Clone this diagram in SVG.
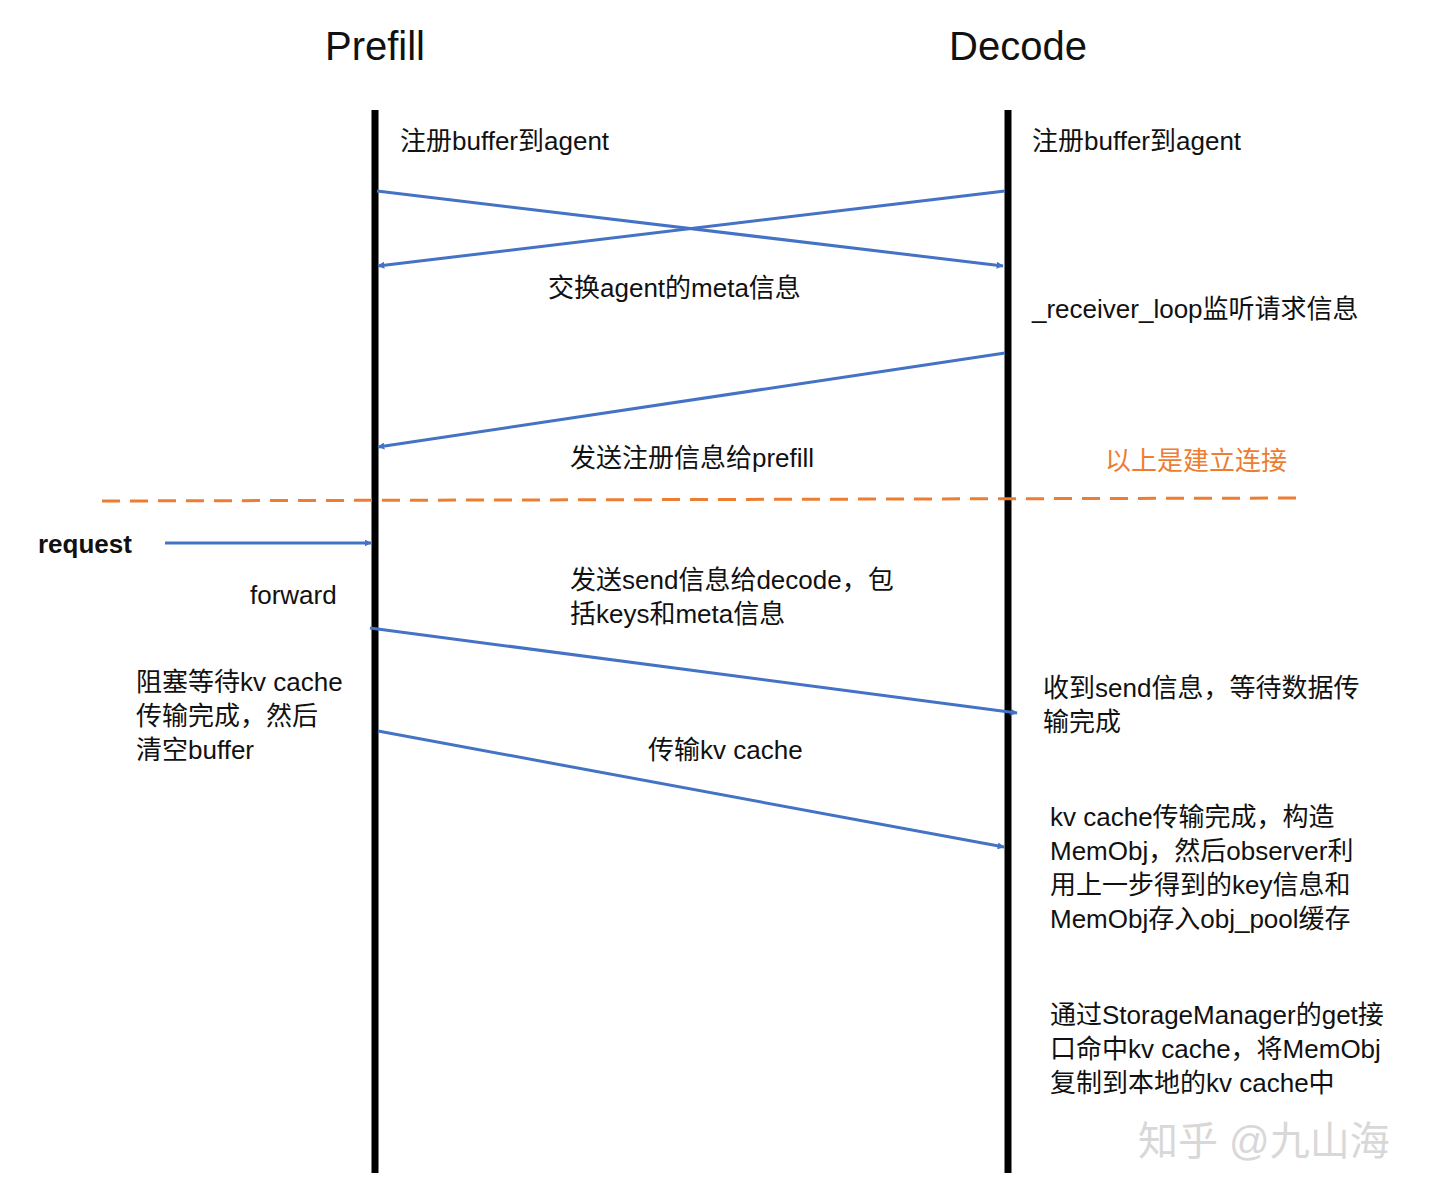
<svg xmlns="http://www.w3.org/2000/svg" width="1440" height="1198" viewBox="0 0 1440 1198">
<style>
text{font-family:"Liberation Sans","Noto Sans CJK SC",sans-serif;font-size:26px;fill:#111}
.t{font-size:40px}
.life{stroke:#000;stroke-width:7}
.c{stroke:#4472C4;stroke-width:3;fill:none;marker-end:url(#ah)}
</style>
<defs><marker id="ah" viewBox="0 0 10 10" refX="9" refY="5" markerWidth="7" markerHeight="7" markerUnits="userSpaceOnUse" orient="auto"><path d="M0,0L10,5L0,10z" fill="#4472C4"/></marker></defs>
<rect width="1440" height="1198" fill="#fff"/>
<g id="prefill"><text class="t" x="375" y="60" text-anchor="middle">Prefill</text><line class="life" x1="375" y1="110" x2="375" y2="1173"/></g>
<g id="decode"><text class="t" x="1018" y="60" text-anchor="middle">Decode</text><line class="life" x1="1008" y1="110" x2="1008" y2="1173"/></g>
<g id="connectors">
<path class="c" d="M377,191L1003,266" style="marker-end:url(#ah)" marker-end="url(#ah)"/>
<path class="c" d="M1005,191L378,266"/>
<path class="c" d="M1005,353L378,447"/>
<path class="c" d="M165,543L371,543"/>
<path class="c" d="M370,628L1017,713"/>
<path class="c" d="M378,731L1004,847"/>
<line x1="102" y1="501" x2="1303" y2="498" stroke="#ED7D31" stroke-width="3" stroke-dasharray="18,10"/>
</g>
<g id="labels">
<text x="400" y="150">注册buffer到agent</text>
<text x="1032" y="150">注册buffer到agent</text>
<text x="548" y="297">交换agent的meta信息</text>
<text x="1032" y="318">_receiver_loop监听请求信息</text>
<text x="570" y="467">发送注册信息给prefill</text>
<text x="1105" y="470" style="fill:#ED7D31">以上是建立连接</text>
<text x="38" y="553" style="font-weight:bold">request</text>
<text x="250" y="604">forward</text>
<text x="570" y="589">发送send信息给decode，包</text>
<text x="570" y="623">括keys和meta信息</text>
<text x="136" y="691">阻塞等待kv cache</text>
<text x="136" y="725">传输完成，然后</text>
<text x="136" y="759">清空buffer</text>
<text x="1043" y="697">收到send信息，等待数据传</text>
<text x="1043" y="731">输完成</text>
<text x="648" y="759">传输kv cache</text>
<text x="1050" y="826">kv cache传输完成，构造</text>
<text x="1050" y="860">MemObj，然后observer利</text>
<text x="1050" y="894">用上一步得到的key信息和</text>
<text x="1050" y="928">MemObj存入obj_pool缓存</text>
<text x="1050" y="1024">通过StorageManager的get接</text>
<text x="1050" y="1058">口命中kv cache，将MemObj</text>
<text x="1050" y="1092">复制到本地的kv cache中</text>
<text x="1138" y="1155" style="font-size:40px;fill:#d8d8d8">知乎 @九山海</text>
</g>
</svg>
